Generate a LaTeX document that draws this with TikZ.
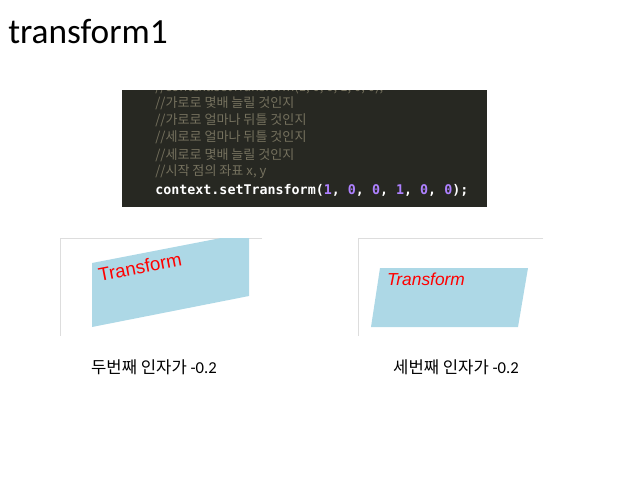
\documentclass[tikz,border=0pt]{standalone}
\usepackage{fontspec}
\setmainfont{Carlito}
\newfontfamily\kr{Noto Sans CJK KR}
\newfontfamily\arl{Liberation Sans}
\newfontfamily\mono{DejaVu Sans Mono}
\definecolor{codebg}{HTML}{272822}
\definecolor{cmt}{HTML}{75715E}
\definecolor{num}{HTML}{AE81FF}
\definecolor{skyfill}{HTML}{ADD8E6}
\definecolor{frame}{HTML}{DDDDDD}
\tikzset{cline/.style={anchor=west,inner sep=0,font=\kr\fontsize{9.8}{9.8}\selectfont,text=cmt},
 lbl/.style={inner sep=0,font=\kr\fontsize{12.5}{12.5}\selectfont},
 tf/.style={inner sep=0,text=red,font=\arl\fontsize{14}{14}\selectfont}}
\begin{document}
\begin{tikzpicture}[x=0.75pt,y=-0.75pt]
\useasboundingbox (0,0) rectangle (638,478);
\node[anchor=west,inner sep=0,font=\fontsize{26.5}{26.5}\selectfont] (title) at (8,32) {transform1};
\fill[codebg] (122,90) rectangle (487,207);
\begin{scope}
\clip (122,90) rectangle (487,207);
\node[cline] (c0) at (155,87) {//context.setTransform(1, 0, 0, 1, 0, 0);};
\end{scope}
\node[cline] (c1) at (155,103) {//가로로 몇배 늘릴 것인지};
\node[cline] (c2) at (155,120) {//가로로 얼마나 뒤틀 것인지};
\node[cline] (c3) at (155,137) {//세로로 얼마나 뒤틀 것인지};
\node[cline] (c4) at (155,155) {//세로로 몇배 늘릴 것인지};
\node[cline] (c5) at (155,172) {//시작 점의 좌표 x, y};
\node[cline,text=white,font=\mono\bfseries\fontsize{10}{10}\selectfont] (c6) at (155,190) {context.setTransform(\textcolor{num}{1}, \textcolor{num}{0}, \textcolor{num}{0}, \textcolor{num}{1}, \textcolor{num}{0}, \textcolor{num}{0});};
% left canvas
\draw[frame] (262,238) -- (60,238) -- (60,336);
\fill[skyfill] (92,263) -- (221,238) -- (249,238) -- (249,296) -- (92,327) -- cycle;
\node[tf,rotate=11] (t1) at (140,267) {Transform};
% right canvas
\draw[frame] (543,238) -- (358,238) -- (358,336);
\fill[skyfill] (380,268) -- (528,268) -- (518,327) -- (371,327) -- cycle;
\node[tf,font=\arl\itshape\fontsize{13}{13}\selectfont] (t2) at (426,279) {Transform};
\node[lbl] (l1) at (154,367) {두번째 인자가 {\rmfamily -0.2}};
\node[lbl] (l2) at (456,367) {세번째 인자가 {\rmfamily -0.2}};
\end{tikzpicture}
\end{document}
